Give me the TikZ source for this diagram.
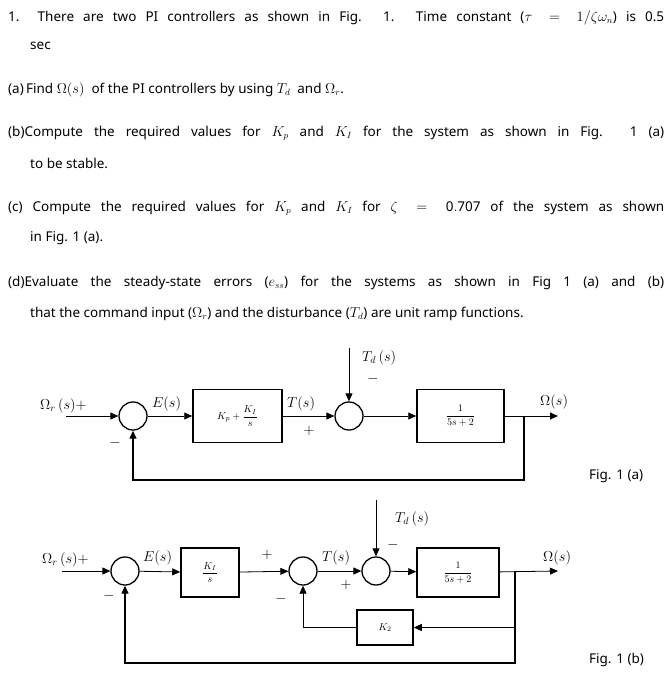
\documentclass[tikz,border=0pt]{standalone}
\usepackage{amsmath}
\usepackage{fontspec}
\setmainfont{Noto Sans}
\usetikzlibrary{arrows.meta}
\begin{document}
\begin{tikzpicture}[x=1pt,y=-1pt,
  txt/.style={anchor=west,inner sep=0pt,font=\fontsize{13.5}{16}\selectfont},
  lab/.style={inner sep=0pt,font=\fontsize{14}{16}\selectfont},
  sumc/.style={circle,draw,line width=1.3pt,minimum size=28pt,inner sep=0pt},
  blk/.style={draw,line width=1.5pt,inner sep=0pt},
  sig/.style={-{Triangle[length=8pt,width=7pt]},line width=0.8pt},
  fbline/.style={line width=1.2pt}]
\useasboundingbox (0,0) rectangle (669,689);
% text
\node[txt] (l1) at (8,18) {\makebox[656pt][s]{1.\ \ There are two PI controllers as shown in Fig. 1. Time constant ($\tau = 1/\zeta\omega_n$) is 0.5}};
\node[txt] (l1b) at (30,46) {sec};
\node[txt] (la) at (8,90) {(a)\,Find $\Omega(s)$ \ of the PI controllers by using $T_d$ \ and $\Omega_r$.};
\node[txt] (lb) at (8,133) {\makebox[656pt][s]{(b)Compute the required values for $K_p$ and $K_I$ for the system as shown in Fig. 1 (a)}};
\node[txt] (lb2) at (30,163) {to be stable.};
\node[txt] (lc) at (8,208) {\makebox[656pt][s]{(c) Compute the required values for $K_p$ and $K_I$ for $\zeta = \mathbf{0.707}$ of the system as shown}};
\node[txt] (lc2) at (30,238) {in Fig. 1 (a).};
\node[txt] (ld) at (8,283) {\makebox[656pt][s]{(d)Evaluate the steady-state errors ($e_{ss}$) for the systems as shown in Fig 1 (a) and (b)}};
\node[txt] (ld2) at (30,314) {that the command input ($\Omega_r$) and the disturbance ($T_d$) are unit ramp functions.};
% ---- Fig 1(a)
\coordinate (ain) at (66,416);
\node[sumc] (as1) at (133,416) {};
\node[blk,minimum width=89pt,minimum height=53pt] (ab1) at (237.5,416) {$K_p+\dfrac{K_I}{s}$};
\node[sumc] (as2) at (349,416) {};
\node[blk,minimum width=87pt,minimum height=53pt] (ab2) at (460.5,416) {$\dfrac{1}{5s+2}$};
\coordinate (aout) at (558,416);
\coordinate (abr) at (524,416);
\coordinate (atd) at (349,348);
\coordinate (afb) at (524,480);
\draw[sig] (ain) -- (as1);
\draw[sig] (as1) -- (ab1);
\draw[sig] (ab1) -- (as2);
\draw[sig] (as2) -- (ab2);
\draw[sig] (ab2) -- (aout);
\draw[sig] (atd) -- (as2);
\draw[fbline,-{Triangle[length=8pt,width=7pt]}] (abr) -- (afb) -| (as1);
\node[lab,anchor=west] (aOr) at (40,406) {$\Omega_r\,(s)+$};
\node[lab,anchor=west] (aE) at (152,404) {$E(s)$};
\node[lab,anchor=west] (aT) at (287,404) {$T(s)$};
\node[lab,anchor=west] (aTd) at (362,358) {$T_d\,(s)$};
\node[lab] (am1) at (373,379) {$-$};
\node[lab] (ap1) at (309,431) {$+$};
\node[lab] (am2) at (115,443) {$-$};
\node[lab,anchor=west] (aO) at (540,402) {$\Omega(s)$};
\node[txt] (fa) at (589,476) {Fig. 1 (a)};
% ---- Fig 1(b)
\coordinate (bin) at (62,571);
\node[sumc] (bs1) at (125,571) {};
\node[blk,minimum width=58pt,minimum height=49pt] (bb1) at (210,572.5) {$\dfrac{K_I}{s}$};
\node[sumc] (bs2) at (303,571) {};
\node[sumc] (bs3) at (376,571) {};
\node[blk,minimum width=82pt,minimum height=49pt] (bb2) at (458,572.5) {$\dfrac{1}{5s+2}$};
\node[blk,minimum width=56pt,minimum height=35pt] (bk2) at (385,627.5) {$K_2$};
\coordinate (bout) at (558,571);
\coordinate (bbr) at (515,571);
\coordinate (bk2r) at (515,627.5);
\coordinate (btd) at (376,500);
\coordinate (bfb) at (515,663);
\draw[sig] (bin) -- (bs1);
\draw[sig] (bs1) -- (bb1);
\draw[sig] (bb1) -- (bs2);
\draw[sig] (bs2) -- (bs3);
\draw[sig] (bs3) -- (bb2);
\draw[sig] (bb2) -- (bout);
\draw[sig] (btd) -- (bs3);
\draw[sig] (bbr) -- (bk2r) -- (bk2);
\draw[sig] (bk2) -| (bs2);
\draw[fbline,-{Triangle[length=8pt,width=7pt]}] (bbr) -- (bfb) -| (bs1);
\node[lab,anchor=west] (bOr) at (42,560) {$\Omega_r\,(s)+$};
\node[lab,anchor=west] (bE) at (143,558) {$E(s)$};
\node[lab] (bp1) at (267,555) {$+$};
\node[lab,anchor=west] (bT) at (322,558) {$T(s)$};
\node[lab] (bp2) at (346,585) {$+$};
\node[lab] (bm1) at (281,599) {$-$};
\node[lab] (bm2) at (109,596) {$-$};
\node[lab,anchor=west] (bTd) at (395,519) {$T_d\,(s)$};
\node[lab] (bm3) at (393,545) {$-$};
\node[lab,anchor=west] (bO) at (543,558) {$\Omega(s)$};
\node[txt] (figb) at (589,660) {Fig. 1 (b)};
\end{tikzpicture}
\end{document}
